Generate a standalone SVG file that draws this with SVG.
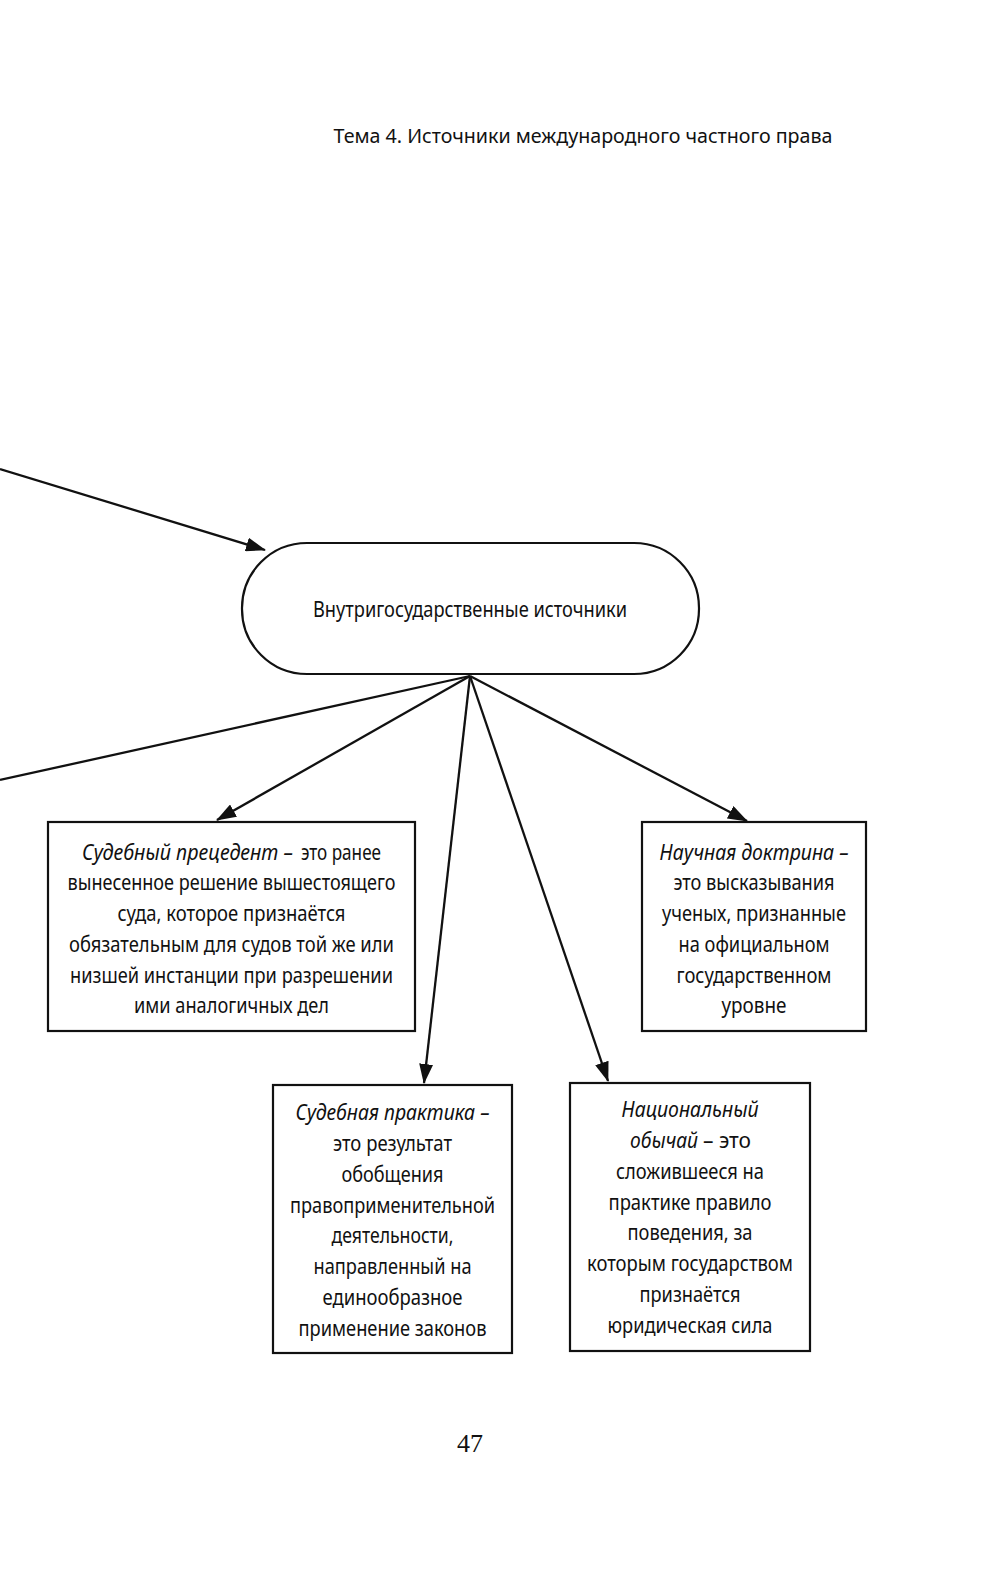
<svg xmlns="http://www.w3.org/2000/svg" width="1000" height="1583" viewBox="0 0 1000 1583">
<style>
.t{font-family:"Noto Sans","Open Sans","DejaVu Sans",sans-serif;font-size:21px;fill:#111;text-anchor:middle}
.s{text-anchor:start}
.i{font-style:italic}
.box{fill:#fff;stroke:#111;stroke-width:2.2}
.ln{stroke:#111;stroke-width:2.3;fill:none}
</style>
<defs>
<marker id="ah" markerWidth="20" markerHeight="14" refX="19" refY="7" orient="auto" markerUnits="userSpaceOnUse">
<path d="M0,0 L20,7 L0,14 z" fill="#111"/>
</marker>
</defs>
<rect x="0" y="0" width="1000" height="1583" fill="#fff"/>
<text x="583" y="143" class="t" style="font-size:20px" textLength="499" lengthAdjust="spacingAndGlyphs">Тема 4. Источники международного частного права</text>
<g id="connectors">
<line class="ln" x1="0" y1="469" x2="265" y2="550" marker-end="url(#ah)"/>
<line class="ln" x1="470" y1="676" x2="0" y2="780"/>
<line class="ln" x1="470" y1="676" x2="217" y2="820" marker-end="url(#ah)"/>
<line class="ln" x1="470" y1="676" x2="424" y2="1083" marker-end="url(#ah)"/>
<line class="ln" x1="470" y1="676" x2="608" y2="1081" marker-end="url(#ah)"/>
<line class="ln" x1="470" y1="676" x2="747" y2="821" marker-end="url(#ah)"/>
</g>
<g id="node-domestic">
<rect class="box" x="242" y="543" width="457" height="131" rx="65" ry="65"/>
<text x="470" y="617" class="t" textLength="314" lengthAdjust="spacingAndGlyphs">Внутригосударственные источники</text>
</g>
<g id="node-precedent">
<rect class="box" x="48" y="822" width="367" height="209"/>
<text x="82" y="860" class="t s i" textLength="211" lengthAdjust="spacingAndGlyphs">Судебный прецедент –</text>
<text x="301" y="860" class="t s" textLength="80" lengthAdjust="spacingAndGlyphs">это ранее</text>
<text x="231.5" y="890" class="t" textLength="328" lengthAdjust="spacingAndGlyphs">вынесенное решение вышестоящего</text>
<text x="231.5" y="921" class="t" textLength="228" lengthAdjust="spacingAndGlyphs">суда, которое признаётся</text>
<text x="231.5" y="952" class="t" textLength="325" lengthAdjust="spacingAndGlyphs">обязательным для судов той же или</text>
<text x="231.5" y="983" class="t" textLength="323" lengthAdjust="spacingAndGlyphs">низшей инстанции при разрешении</text>
<text x="231.5" y="1013" class="t" textLength="195" lengthAdjust="spacingAndGlyphs">ими аналогичных дел</text>
</g>
<g id="node-doctrine">
<rect class="box" x="642" y="822" width="224" height="209"/>
<text x="754" y="860" class="t i" textLength="189" lengthAdjust="spacingAndGlyphs">Научная доктрина –</text>
<text x="754" y="890" class="t" textLength="161" lengthAdjust="spacingAndGlyphs">это высказывания</text>
<text x="754" y="921" class="t" textLength="184" lengthAdjust="spacingAndGlyphs">ученых, признанные</text>
<text x="754" y="952" class="t" textLength="151" lengthAdjust="spacingAndGlyphs">на официальном</text>
<text x="754" y="983" class="t" textLength="155" lengthAdjust="spacingAndGlyphs">государственном</text>
<text x="754" y="1013" class="t" textLength="65" lengthAdjust="spacingAndGlyphs">уровне</text>
</g>
<g id="node-practice">
<rect class="box" x="273" y="1085" width="239" height="268"/>
<text x="392.5" y="1120" class="t i" textLength="194" lengthAdjust="spacingAndGlyphs">Судебная практика –</text>
<text x="392.5" y="1151" class="t" textLength="119" lengthAdjust="spacingAndGlyphs">это результат</text>
<text x="392.5" y="1182" class="t" textLength="102" lengthAdjust="spacingAndGlyphs">обобщения</text>
<text x="392.5" y="1213" class="t" textLength="205" lengthAdjust="spacingAndGlyphs">правоприменительной</text>
<text x="392.5" y="1243" class="t" textLength="122" lengthAdjust="spacingAndGlyphs">деятельности,</text>
<text x="392.5" y="1274" class="t" textLength="158" lengthAdjust="spacingAndGlyphs">направленный на</text>
<text x="392.5" y="1305" class="t" textLength="140" lengthAdjust="spacingAndGlyphs">единообразное</text>
<text x="392.5" y="1336" class="t" textLength="188" lengthAdjust="spacingAndGlyphs">применение законов</text>
</g>
<g id="node-custom">
<rect class="box" x="570" y="1083" width="240" height="268"/>
<text x="690" y="1117" class="t i" textLength="137" lengthAdjust="spacingAndGlyphs">Национальный</text>
<text x="630" y="1148" class="t s i" textLength="68" lengthAdjust="spacingAndGlyphs">обычай</text>
<text x="703" y="1148" class="t s" textLength="48" lengthAdjust="spacingAndGlyphs">– это</text>
<text x="690" y="1179" class="t" textLength="148" lengthAdjust="spacingAndGlyphs">сложившееся на</text>
<text x="690" y="1210" class="t" textLength="163" lengthAdjust="spacingAndGlyphs">практике правило</text>
<text x="690" y="1240" class="t" textLength="125" lengthAdjust="spacingAndGlyphs">поведения, за</text>
<text x="690" y="1271" class="t" textLength="206" lengthAdjust="spacingAndGlyphs">которым государством</text>
<text x="690" y="1302" class="t" textLength="101" lengthAdjust="spacingAndGlyphs">признаётся</text>
<text x="690" y="1333" class="t" textLength="165" lengthAdjust="spacingAndGlyphs">юридическая сила</text>
</g>
<text x="470" y="1452" style="font-family:'Liberation Serif','DejaVu Serif',serif;font-size:26px;fill:#111;text-anchor:middle">47</text>
</svg>
